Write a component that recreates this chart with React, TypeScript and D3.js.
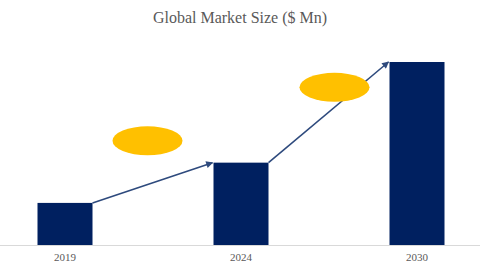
import React from "react";
import * as d3 from "d3";

const years: string[] = ["2019", "2024", "2030"];
const values: number[] = [23, 45, 100];
const title = "Global Market Size ($ Mn)";

const W = 480;
const H = 270;
const baseY = 245;
const topY = 62;

export default function App() {
  const x = d3
    .scaleBand<string>()
    .domain(years)
    .range([-23, 505])
    .paddingInner(0.6875)
    .paddingOuter(0.34375);
  const y = d3.scaleLinear().domain([0, 100]).range([baseY, topY]);
  const bw = x.bandwidth();

  const arrows = years.slice(0, -1).map((yr, i) => {
    const nx = years[i + 1];
    return {
      x1: (x(yr) as number) + bw,
      y1: y(values[i]),
      x2: (x(nx) as number) - 1,
      y2: y(values[i + 1]),
    };
  });

  const ellipseOffsets = [
    { dx: -5, dy: -42 },
    { dx: 6, dy: -25 },
  ];

  return (
    <svg
      width={W}
      height={H}
      style={{ position: "absolute", left: 0, top: 0, background: "#fff" }}
    >
      <defs>
        <marker
          id="ah"
          viewBox="0 0 10 10"
          refX="9"
          refY="5"
          markerWidth="9"
          markerHeight="7"
          markerUnits="userSpaceOnUse"
          orient="auto"
        >
          <path d="M0,0 L10,5 L0,10 z" fill="#2E4A7D" />
        </marker>
      </defs>
      <text
        x={W / 2}
        y={23}
        textAnchor="middle"
        fontFamily="'Liberation Serif', 'Times New Roman', serif"
        fontSize={16}
        fill="#595959"
      >
        {title}
      </text>
      <line x1={0} x2={W} y1={baseY + 0.5} y2={baseY + 0.5} stroke="#D9D9D9" strokeWidth={1} />
      {years.map((yr, i) => (
        <rect
          key={yr}
          x={x(yr)}
          y={y(values[i])}
          width={bw}
          height={baseY - y(values[i])}
          fill="#002060"
        />
      ))}
      {arrows.map((a, i) => (
        <line
          key={i}
          x1={a.x1}
          y1={a.y1}
          x2={a.x2}
          y2={a.y2}
          stroke="#2E4A7D"
          strokeWidth={1.6}
          markerEnd="url(#ah)"
        />
      ))}
      {arrows.map((a, i) => (
        <ellipse
          key={i}
          cx={(a.x1 + a.x2) / 2 + ellipseOffsets[i].dx}
          cy={(a.y1 + a.y2) / 2 + ellipseOffsets[i].dy}
          rx={35}
          ry={14.5}
          fill="#FFC000"
        />
      ))}
      {years.map((yr) => (
        <text
          key={yr}
          x={(x(yr) as number) + bw / 2}
          y={261}
          textAnchor="middle"
          fontFamily="'Liberation Serif', 'Times New Roman', serif"
          fontSize={11}
          fill="#595959"
        >
          {yr}
        </text>
      ))}
    </svg>
  );
}
